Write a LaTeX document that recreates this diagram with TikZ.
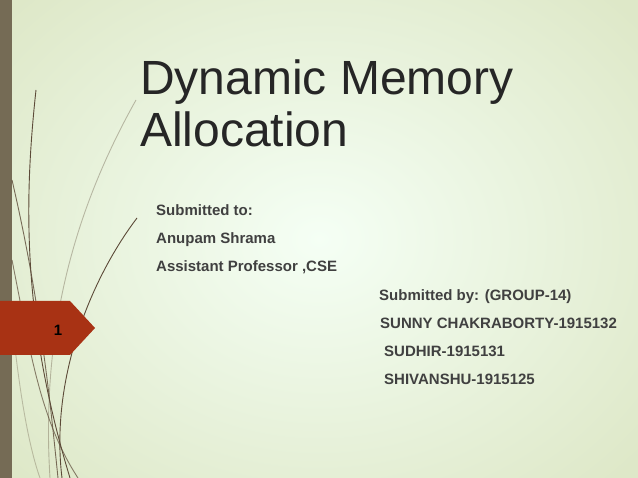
\documentclass[tikz,border=0pt]{standalone}
\usepackage{fontspec}
\setmainfont{Liberation Sans}
\begin{document}
\begin{tikzpicture}[x=1pt,y=-1pt,
  sub/.style={anchor=base west,font=\bfseries\fontsize{15}{17}\selectfont,text=black!75,inner sep=0},
  grass/.style={draw=black!60!brown!70!gray,line width=0.9pt}]
\useasboundingbox (0,0) rectangle (638,478);
\shade[inner color=white!96!green,outer color={rgb,255:red,222;green,232;blue,200}] (-100,-100) rectangle (738,578);
\fill[fill={rgb,255:red,117;green,107;blue,85}] (0,0) rectangle (12,478);
% grass
\draw[grass] (36,90) .. controls (24,200) and (22,320) .. (70,478);
\draw[grass,opacity=0.8] (12,180) .. controls (40,300) and (50,400) .. (58,478);
\draw[grass,opacity=0.7] (12,260) .. controls (30,350) and (40,420) .. (78,478);
\draw[grass,opacity=0.35] (136,100) .. controls (80,200) and (40,320) .. (50,478);
\draw[grass] (137,218) .. controls (90,280) and (50,380) .. (62,478);
\draw[grass,opacity=0.3] (12,320) .. controls (20,400) and (30,450) .. (40,478);
% tab
\fill[fill={rgb,255:red,168;green,50;blue,20}] (0,301) -- (70,301) -- (95,328) -- (70,355) -- (0,355) -- cycle;
\node[font=\bfseries\fontsize{15}{16}\selectfont] (num) at (58,330) {1};
\node[anchor=base west,inner sep=0,font=\fontsize{48}{52}\selectfont,text=black!85] (t1) at (140,95) {Dynamic Memory};
\node[anchor=base west,inner sep=0,font=\fontsize{48}{52}\selectfont,text=black!85] (t2) at (140,147) {Allocation};
\node[sub] (a) at (156,216) {Submitted to:};
\node[sub] (b) at (156,244) {Anupam Shrama};
\node[sub] (c) at (156,272) {Assistant Professor ,CSE};
\node[sub] (d) at (379,301) {Submitted by: (GROUP-14)};
\node[sub] (e) at (380,329) {SUNNY CHAKRABORTY-1915132};
\node[sub] (f) at (384,357) {SUDHIR-1915131};
\node[sub] (g) at (384,385) {SHIVANSHU-1915125};
\end{tikzpicture}
\end{document}
